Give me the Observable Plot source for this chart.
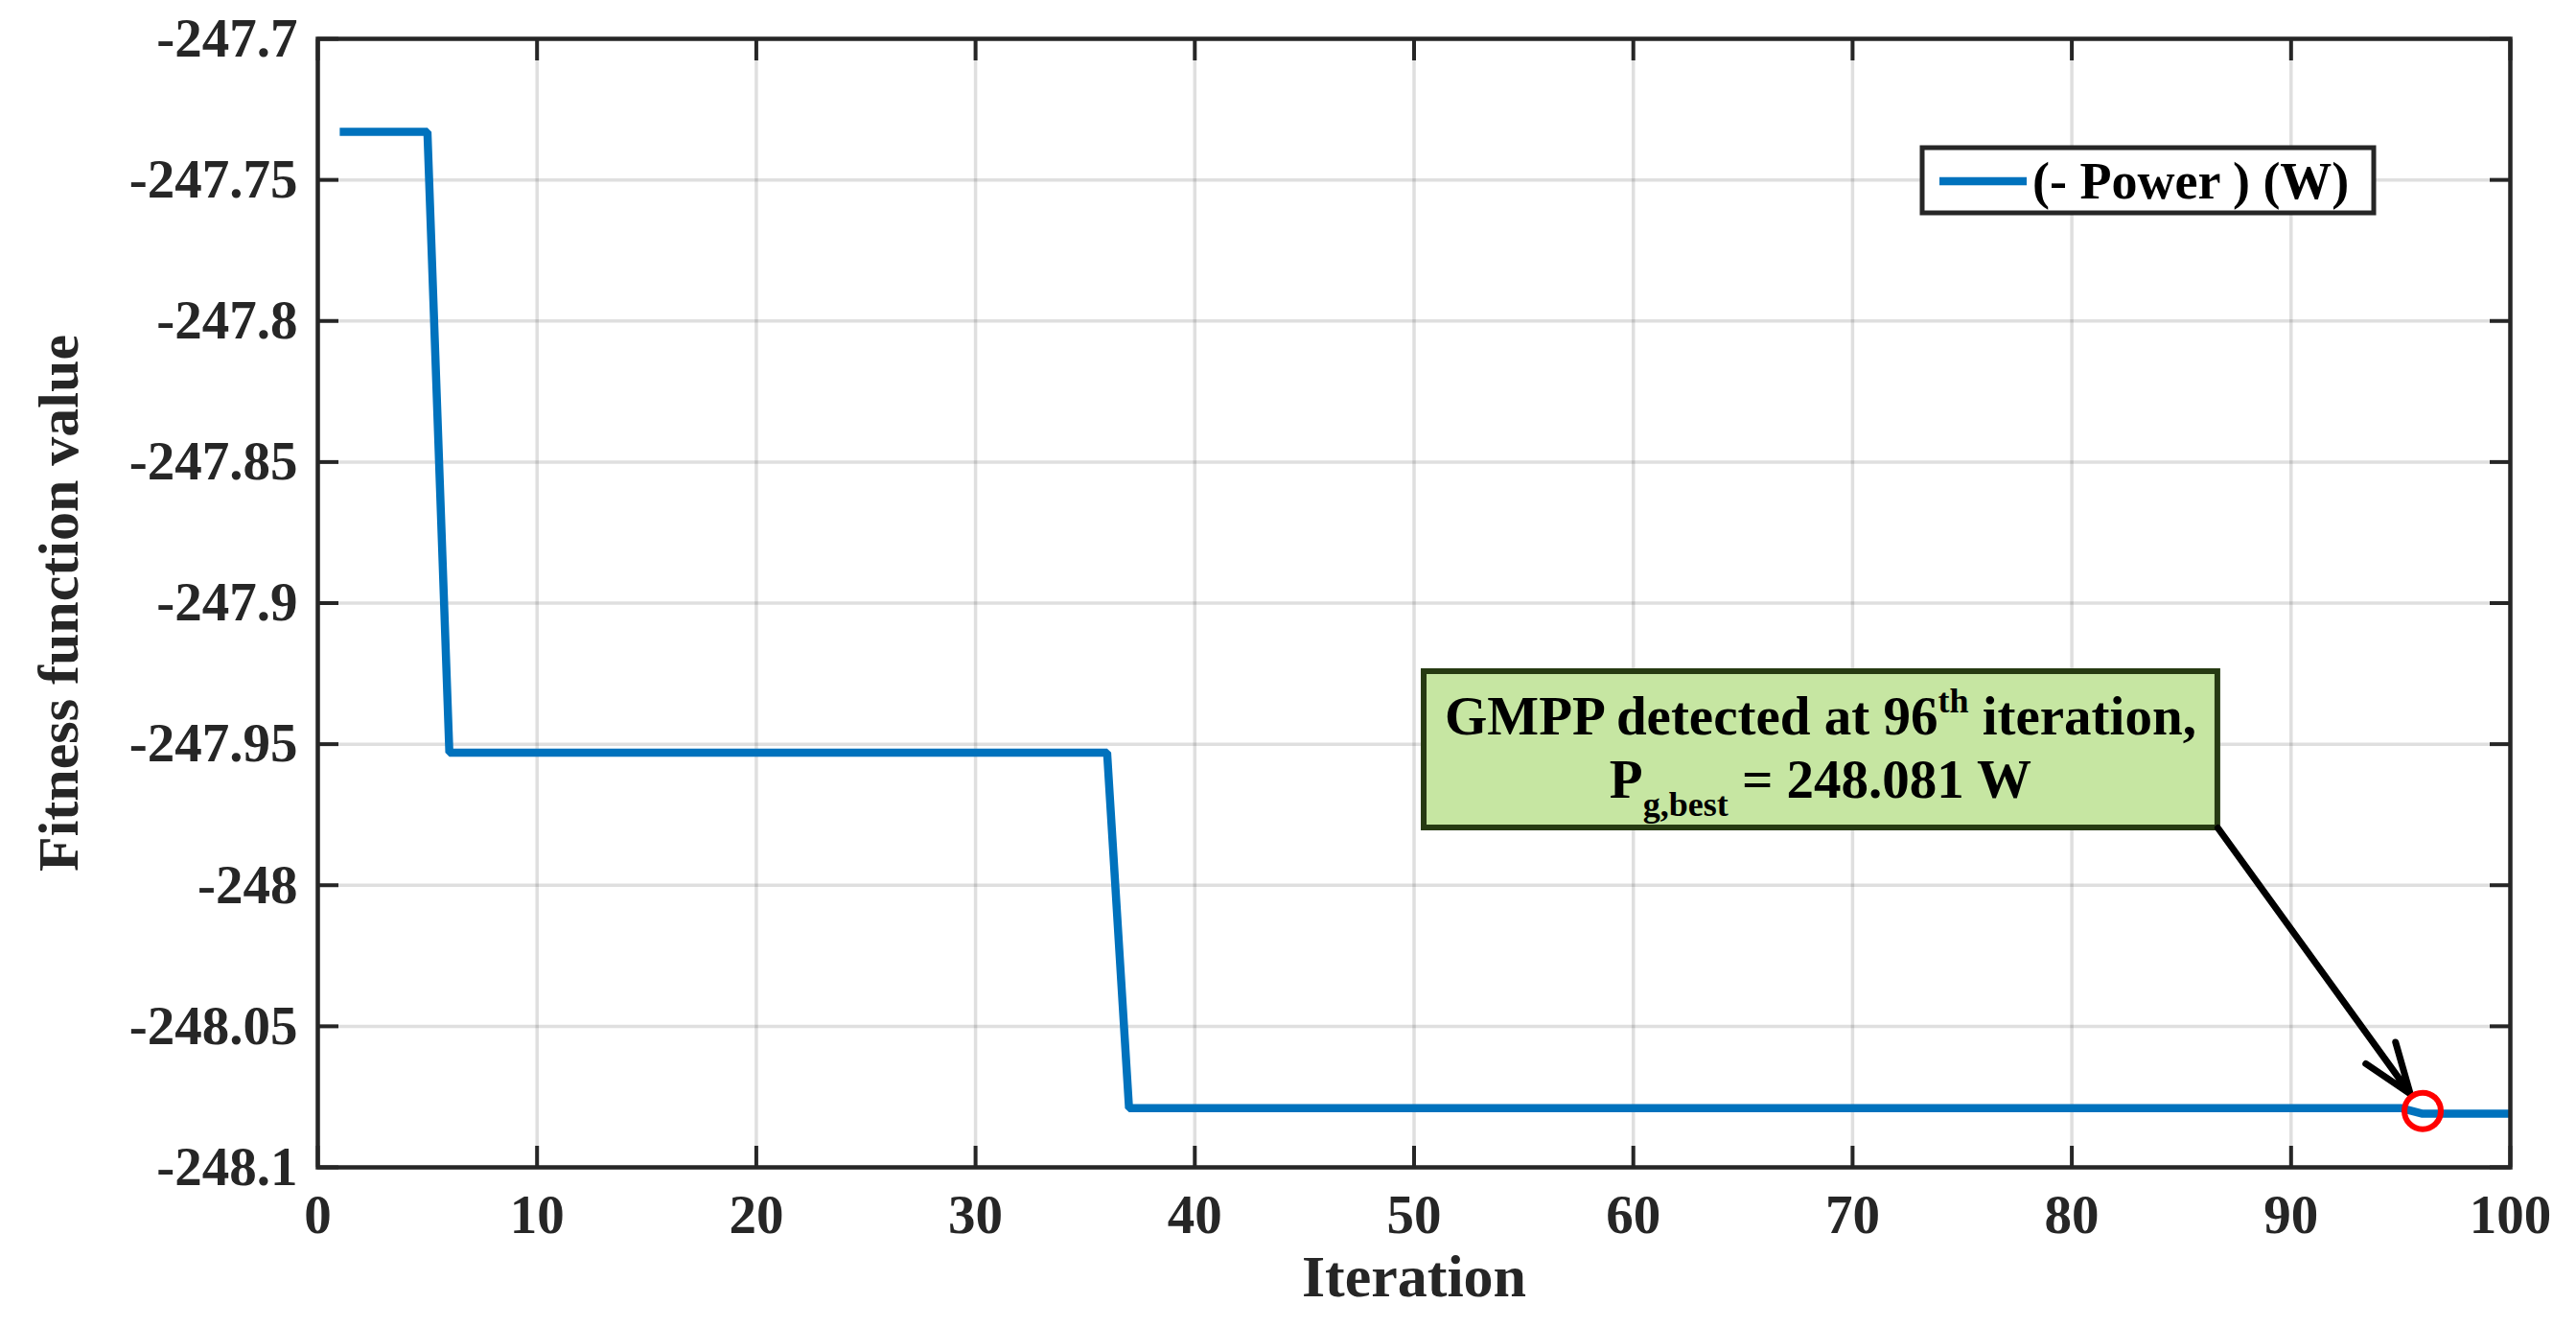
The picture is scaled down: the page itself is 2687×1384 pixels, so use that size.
<!DOCTYPE html>
<html>
<head>
<meta charset="utf-8">
<script src="https://cdn.jsdelivr.net/npm/d3@7"></script>
<script src="https://cdn.jsdelivr.net/npm/@observablehq/plot@0.6"></script>
<style>
  html, body { margin: 0; padding: 0; background: #ffffff; }
  #chart svg { display: block; }
</style>
</head>
<body>
<div id="chart"></div>
<script>
// ---- data ----
const iterations = [1, 5, 6, 36, 37, 95, 96, 100];
const fitness = [-247.733, -247.733, -247.953, -247.953, -248.079, -248.079, -248.081, -248.081];
const xTicks = [0, 10, 20, 30, 40, 50, 60, 70, 80, 90, 100];
const yTicks = [-248.1, -248.05, -248.0, -247.95, -247.9, -247.85, -247.8, -247.75, -247.7];
const seriesName = "(- Power ) (W)";
const xLabel = "Iteration";
const yLabel = "Fitness function value";
const gmppIteration = [96];
const gmppValue = [-248.080];

const data = iterations.map((x, i) => ({x, y: fitness[i]}));
const gmpp = gmppIteration.map((x, i) => ({x, y: gmppValue[i]}));

// ---- annotation placement (data units) ----
const boxX1 = 50.46, boxX2 = 86.66, boxYTop = -247.9243, boxYBottom = -247.9797;

const FONT = "'Liberation Serif', 'Times New Roman', Times, serif";
const AX = "#262626";
const BLUE = "#0072BD";

const chart = Plot.plot({
  width: 2687,
  height: 1384,
  marginLeft: 331,
  marginRight: 69,
  marginTop: 40,
  marginBottom: 167,
  style: {fontFamily: FONT, fontWeight: "bold", fontSize: "57px", color: AX, background: "#ffffff"},
  x: {domain: [0, 100]},
  y: {domain: [-248.1, -247.7]},
  marks: [
    Plot.gridX(xTicks, {stroke: AX, strokeOpacity: 0.15, strokeWidth: 3.5}),
    Plot.gridY(yTicks, {stroke: AX, strokeOpacity: 0.15, strokeWidth: 3.5}),
    Plot.line(data, {x: "x", y: "y", stroke: BLUE, strokeWidth: 8.5, strokeLinejoin: "miter", strokeLinecap: "butt"}),
    Plot.rect([{}], {x1: boxX1, x2: boxX2, y1: boxYTop, y2: boxYBottom, fill: "#c6e6a2", stroke: "#263a12", strokeWidth: 6}),
    Plot.arrow([{}], {x1: boxX2, y1: boxYBottom, x2: gmpp[0].x, y2: gmpp[0].y, stroke: "#000000", strokeWidth: 7, headLength: 12, headAngle: 40, insetEnd: 22, bend: 0}),
    Plot.dot(gmpp, {x: "x", y: "y", r: 19, stroke: "#ff0000", strokeWidth: 6, fill: "none"}),
    Plot.frame({stroke: AX, strokeWidth: 4.5}),
    Plot.axisX({ticks: xTicks, anchor: "bottom", tickSize: -22, tickPadding: 50, strokeWidth: 4, tickFormat: d => String(d), label: null}),
    Plot.axisX({ticks: xTicks, anchor: "top", tickSize: -22, strokeWidth: 4, tickFormat: () => "", label: null}),
    Plot.axisY({ticks: yTicks, anchor: "left", tickSize: -22, tickPadding: 43, strokeWidth: 4, tickFormat: d => String(+d.toFixed(2)), label: null}),
    Plot.axisY({ticks: yTicks, anchor: "right", tickSize: -22, strokeWidth: 4, tickFormat: () => "", label: null}),
    Plot.text([xLabel], {frameAnchor: "bottom", dy: 134, fontSize: 62, fontWeight: "bold", fill: AX}),
    Plot.text([yLabel], {frameAnchor: "left", textAnchor: "middle", rotate: -90, dx: -270, fontSize: 60, fontWeight: "bold", fill: AX})
  ]
});

document.getElementById("chart").appendChild(chart);

// ---- annotation text (one text element, two lines) and legend ----
const sx = chart.scale("x"), sy = chart.scale("y");
const svg = d3.select(chart);
const cx = (sx.apply(boxX1) + sx.apply(boxX2)) / 2;
const topPx = sy.apply(boxYTop);

const ann = svg.append("text")
  .attr("text-anchor", "middle")
  .attr("font-family", FONT).attr("font-weight", "bold").attr("font-size", 57).attr("fill", "#000");
ann.append("tspan").attr("x", cx).attr("y", topPx + 66).text("GMPP detected at 96");
ann.append("tspan").attr("dy", -23).attr("font-size", 36).text("th");
ann.append("tspan").attr("dy", 23).text(" iteration,");
ann.append("tspan").attr("x", cx).attr("y", topPx + 132).text("P");
ann.append("tspan").attr("dy", 19).attr("font-size", 36).text("g,best");
ann.append("tspan").attr("dy", -19).text(" = 248.081 W");

// legend (top-right, inside the axes)
const lg = svg.append("g");
lg.append("rect").attr("x", 2005).attr("y", 154).attr("width", 471).attr("height", 68)
  .attr("fill", "#ffffff").attr("stroke", AX).attr("stroke-width", 5);
lg.append("line").attr("x1", 2023).attr("x2", 2114).attr("y1", 189).attr("y2", 189)
  .attr("stroke", BLUE).attr("stroke-width", 8.5);
lg.append("text").attr("x", 2120).attr("y", 207)
  .attr("text-anchor", "start")
  .attr("font-family", FONT).attr("font-weight", "bold").attr("font-size", 54).attr("fill", "#000")
  .text(seriesName);
</script>
</body>
</html>
